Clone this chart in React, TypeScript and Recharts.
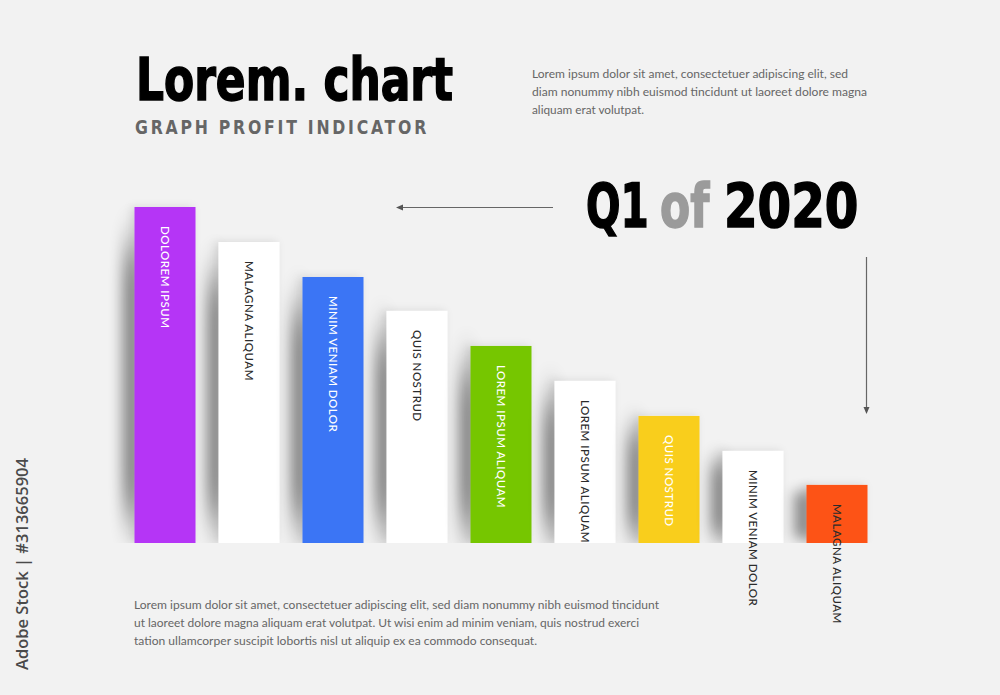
import React from 'react';
import { BarChart, Bar, XAxis, YAxis, Cell } from 'recharts';

const categories = [
  'DOLOREM IPSUM',
  'MALAGNA ALIQUAM',
  'MINIM VENIAM DOLOR',
  'QUIS NOSTRUD',
  'LOREM IPSUM ALIQUAM',
  'LOREM IPSUM ALIQUAM',
  'QUIS NOSTRUD',
  'MINIM VENIAM DOLOR',
  'MALAGNA ALIQUAM',
];
const values = [96, 86, 76, 66.3, 56.3, 46.3, 36.3, 26.3, 16.6];
const barColors = ['#b535f6', '#ffffff', '#3b74f5', '#ffffff', '#76c600', '#ffffff', '#f9ce1d', '#ffffff', '#fd5312'];
const labelColors = ['#ffffff', '#2b2b2b', '#ffffff', '#2b2b2b', '#ffffff', '#2b2b2b', '#ffffff', '#2b2b2b', '#2b2b2b'];

const topParagraph = [
  'Lorem ipsum dolor sit amet, consectetuer adipiscing elit, sed',
  'diam nonummy nibh euismod tincidunt ut laoreet dolore magna',
  'aliquam erat volutpat.',
];
const bottomParagraph = [
  'Lorem ipsum dolor sit amet, consectetuer adipiscing elit, sed diam nonummy nibh euismod tincidunt',
  'ut laoreet dolore magna aliquam erat volutpat. Ut wisi enim ad minim veniam, quis nostrud exerci',
  'tation ullamcorper suscipit lobortis nisl ut aliquip ex ea commodo consequat.',
];
const periodParts = ['Q1', 'of', '2020'];

const data = categories.map((name, i) => ({ name, value: values[i], i }));

const BarShape = (props: any) => {
  const { x, y, width, height, index, payload } = props;
  const i = payload?.i ?? index;
  const cx = x + width / 2;
  const ty = y + 19;
  const vBlur = Math.min(22, height * 0.12);
  return (
    <g>
      <defs>
        <clipPath id={`bclip${i}`}>
          <rect x={x - 80} y={y - 60} width={width + 120} height={height + 60} />
        </clipPath>
        <filter id={`sblur${i}`} x="-300%" y="-50%" width="700%" height="200%">
          <feGaussianBlur stdDeviation={`7 ${vBlur}`} />
        </filter>
      </defs>
      <g clipPath={`url(#bclip${i})`}>
        <rect
          x={x - 12}
          y={y + height * 0.12}
          width={16}
          height={height * 0.8}
          fill="#000"
          opacity={0.45}
          filter={`url(#sblur${i})`}
        />
        <rect x={x} y={y} width={width} height={height} fill={barColors[i]} filter="url(#barShadow)" />
      </g>
      <text
        x={cx}
        y={ty}
        transform={`rotate(90 ${cx} ${ty})`}
        fill={labelColors[i]}
        fontFamily="Lato, 'Open Sans', sans-serif"
        fontSize={11.5}
        fontWeight={500}
        letterSpacing={0.5}
        dominantBaseline="central"
        textAnchor="start"
      >
        {categories[i]}
      </text>
    </g>
  );
};

export default function App() {
  const textFont = "Lato, 'Open Sans', sans-serif";
  const headFont = "'DejaVu Sans Condensed', 'Liberation Sans Narrow', 'DejaVu Sans', sans-serif";
  const topWidths = [316, 335, 112];
  const botWidths = [525, 505, 403];
  const periodX = [586, 660, 724];
  const periodScale = [0.74, 0.8, 0.88];
  const periodColors = ['#000', '#9b9b9b', '#000'];
  return (
    <div style={{ position: 'absolute', left: 0, top: 0, width: 1000, height: 695, background: '#f2f2f2', overflow: 'hidden' }}>
      <svg width={0} height={0} style={{ position: 'absolute' }}>
        <defs>
          <filter id="barShadow" x="-50%" y="-20%" width="200%" height="140%">
            <feGaussianBlur in="SourceAlpha" stdDeviation="4" />
            <feOffset dx="-3" dy="0" result="off" />
            <feFlood floodColor="#000" floodOpacity="0.12" />
            <feComposite in2="off" operator="in" />
            <feMerge>
              <feMergeNode />
              <feMergeNode in="SourceGraphic" />
            </feMerge>
          </filter>
        </defs>
      </svg>
      <div style={{ position: 'absolute', left: 0, top: 0 }}>
        <BarChart width={1000} height={695} data={data} margin={{ top: 193, right: 121.5, bottom: 152, left: 122.5 }}>
          <XAxis dataKey="name" hide />
          <YAxis domain={[0, 100]} hide />
          <Bar dataKey="value" barSize={61} isAnimationActive={false} shape={BarShape}>
            {data.map((d) => (
              <Cell key={d.i} fill={barColors[d.i]} />
            ))}
          </Bar>
        </BarChart>
      </div>
      <svg width={1000} height={695} style={{ position: 'absolute', left: 0, top: 0, pointerEvents: 'none' }}>
        <text
          x={136}
          y={100}
          fontFamily={headFont}
          fontStretch="condensed"
          fontWeight={700}
          fontSize={59}
          fill="#000"
          stroke="#000"
          strokeWidth={1.5}
          textLength={317}
          lengthAdjust="spacingAndGlyphs"
        >
          Lorem. chart
        </text>
        <text
          x={135}
          y={134}
          fontFamily={headFont}
          fontStretch="condensed"
          fontWeight={700}
          fontSize={19}
          fill="#666"
          letterSpacing={3}
          textLength={294}
          lengthAdjust="spacingAndGlyphs"
        >
          GRAPH PROFIT INDICATOR
        </text>
        {topParagraph.map((t, k) => (
          <text key={k} x={532} y={78 + k * 18} fontFamily={textFont} fontSize={12} fill="#666" textLength={topWidths[k]} lengthAdjust="spacingAndGlyphs">
            {t}
          </text>
        ))}
        {periodParts.map((p, k) => (
          <text
            key={p}
            x={0}
            y={0}
            transform={`translate(${periodX[k]} 227) scale(${periodScale[k]} 1)`}
            fontFamily={headFont}
            fontStretch="condensed"
            fontWeight={700}
            fontSize={61}
            fill={periodColors[k]}
            stroke={periodColors[k]}
            strokeWidth={1.5}
          >
            {p}
          </text>
        ))}
        <line x1={400} y1={207.5} x2={553} y2={207.5} stroke="#666" strokeWidth={1.2} />
        <polygon points="396,207.5 403,204.5 403,210.5" fill="#555" />
        <line x1={866.5} y1={257} x2={866.5} y2={408} stroke="#666" strokeWidth={1.2} />
        <polygon points="866.5,414 863.5,407 869.5,407" fill="#555" />
        {bottomParagraph.map((t, k) => (
          <text key={k} x={134} y={609 + k * 18} fontFamily={textFont} fontSize={12} fill="#666" textLength={botWidths[k]} lengthAdjust="spacingAndGlyphs">
            {t}
          </text>
        ))}
        <text x={28} y={670} transform="rotate(-90 28 670)" fontFamily="'Open Sans', 'DejaVu Sans', sans-serif" fontWeight={600} fontSize={17} fill="#4a4a4a" textLength={212} lengthAdjust="spacingAndGlyphs">
          Adobe Stock | #313665904
        </text>
      </svg>
    </div>
  );
}
